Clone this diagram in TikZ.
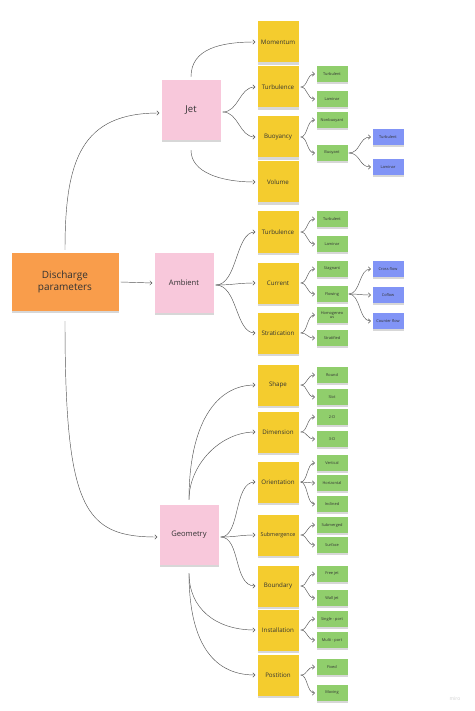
\documentclass[tikz,border=0pt]{standalone}
\usepackage{fontspec}
\setmainfont{Open Sans}
\usetikzlibrary{arrows.meta,shadows}
\definecolor{orangec}{HTML}{F99D4B}
\definecolor{pinkc}{HTML}{F8C8DB}
\definecolor{yellowc}{HTML}{F4CC2E}
\definecolor{greenc}{HTML}{90CE6C}
\definecolor{bluec}{HTML}{8194F6}
\definecolor{linec}{HTML}{555555}
\definecolor{txtc}{HTML}{333333}
\tikzset{
  note/.style={inner sep=1pt, align=center, text=txtc,
    drop shadow={shadow xshift=0pt, shadow yshift=-2.2pt, opacity=0.22, fill=black!70}},
  org/.style={note, fill=orangec, minimum width=107pt, minimum height=58pt, font=\fontsize{10}{12.5}\selectfont},
  pnk/.style={note, fill=pinkc, minimum width=59pt, minimum height=60pt, font=\fontsize{7.6}{9}\selectfont},
  yel/.style={note, fill=yellowc, minimum width=41pt, minimum height=41pt, font=\fontsize{6.2}{7}\selectfont},
  grn/.style={note, fill=greenc, minimum width=31pt, minimum height=16pt, font=\fontsize{3.9}{4.5}\selectfont},
  blu/.style={note, fill=bluec, minimum width=31pt, minimum height=16pt, font=\fontsize{3.9}{4.5}\selectfont},
  arr/.style={draw=linec, line width=0.45pt, -{Straight Barb[length=2.2pt,width=4.4pt]}},
}
\begin{document}
\begin{tikzpicture}[x=1pt,y=-1pt]
\useasboundingbox (0,0) rectangle (474,711);
\fill[white] (0,0) rectangle (474,711);

% main nodes
\node[org] (disc) at (65,282) {Discharge\\parameters};
\node[pnk,font=\fontsize{9.5}{11}\selectfont] (jet) at (191,110) {Jet};
\node[pnk] (amb) at (184,283) {Ambient};
\node[pnk] (geo) at (189,535) {Geometry};

% yellow
\node[yel] (mom) at (278,42) {Momentum};
\node[yel] (jturb) at (278,87) {Turbulence};
\node[yel] (buoy) at (278,137) {Buoyancy};
\node[yel] (vol) at (278,182) {Volume};
\node[yel] (aturb) at (278,232) {Turbulence};
\node[yel] (cur) at (278,283) {Current};
\node[yel] (strat) at (278,333) {Stratication};
\node[yel] (shape) at (278,385) {Shape};
\node[yel] (dim) at (278,432) {Dimension};
\node[yel] (ori) at (278,482) {Orientation};
\node[yel,font=\fontsize{5.4}{6}\selectfont] (sub) at (278,535) {Submergence};
\node[yel] (bound) at (278,586) {Boundary};
\node[yel] (inst) at (278,630) {Installation};
\node[yel] (pos) at (278,675) {Postition};

% green
\node[grn] (jturbT) at (332,74) {Turbulent};
\node[grn] (jturbL) at (332,99) {Laminar};
\node[grn] (nonb) at (332,120) {Nonbuoyant};
\node[grn] (buoyt) at (332,153) {Buoyant};
\node[grn] (aturbT) at (332,219) {Turbulent};
\node[grn] (aturbL) at (332,244) {Laminar};
\node[grn] (stag) at (332,269) {Stagnant};
\node[grn] (flow) at (332,294) {Flowing};
\node[grn] (homo) at (332,315) {Homogeneo\\us};
\node[grn] (stratd) at (332,338) {Stratified};
\node[grn] (round) at (332,375) {Round};
\node[grn] (slot) at (332,397) {Slot};
\node[grn] (d2) at (332,417) {2-D};
\node[grn] (d3) at (332,439) {3-D};
\node[grn] (vert) at (332,463) {Vertical};
\node[grn] (horiz) at (332,483) {Horizontal};
\node[grn] (incl) at (332,504) {Inclined};
\node[grn] (subm) at (332,525) {Submerged};
\node[grn] (surf) at (332,545) {Surface};
\node[grn] (freej) at (332,574) {Free jet};
\node[grn] (wallj) at (332,598) {Wall jet};
\node[grn] (single) at (332,619) {Single - port};
\node[grn] (multi) at (332,640) {Multi - port};
\node[grn] (fixed) at (332,667) {Fixed};
\node[grn] (moving) at (332,693) {Moving};

% blue
\node[blu] (bT) at (388,137) {Turbulent};
\node[blu] (bL) at (388,167) {Laminar};
\node[blu] (cross) at (388,269) {Cross flow};
\node[blu] (coflow) at (388,295) {Coflow};
\node[blu] (counter) at (388,321) {Counter flow};

\node[text=black!18, font=\fontsize{5}{6}\selectfont] (wm) at (455,699) {miro};

% discharge connectors
\draw[arr] ([yshift=3pt]disc.north) .. controls +(0,-90) and +(-78,0) .. ([xshift=-2pt,yshift=-3pt]jet.west);
\draw[arr] ([xshift=2pt]disc.east) -- ([xshift=-2pt]amb.west);
\draw[arr] ([yshift=-10pt]disc.south) .. controls +(0,188) and +(-73,0) .. ([xshift=-2pt,yshift=-2pt]geo.west);

% jet connectors
\draw[arr] ([yshift=3pt]jet.north) .. controls +(0,-28) and +(-35,0) .. ([xshift=-2pt]mom.west);
\draw[arr] ([xshift=2pt,yshift=-2pt]jet.east) .. controls +(16,0) and +(-16,0) .. ([xshift=-2pt]jturb.west);
\draw[arr] ([xshift=2pt,yshift=-2pt]jet.east) .. controls +(16,0) and +(-16,0) .. ([xshift=-2pt]buoy.west);
\draw[arr] ([yshift=-10pt]jet.south) .. controls +(0,22) and +(-35,0) .. ([xshift=-2pt]vol.west);

% ambient connectors
\draw[arr] ([xshift=2pt,yshift=-2pt]amb.east) .. controls +(22,0) and +(-20,0) .. ([xshift=-2pt]aturb.west);
\draw[arr] ([xshift=2pt,yshift=-2pt]amb.east) .. controls +(18,0) and +(-18,0) .. ([xshift=-2pt]cur.west);
\draw[arr] ([xshift=2pt,yshift=-2pt]amb.east) .. controls +(22,0) and +(-20,0) .. ([xshift=-2pt]strat.west);

% geometry connectors
\draw[arr] ([yshift=5pt]geo.north) .. controls +(0,-75) and +(-40,0) .. ([xshift=-2pt]shape.west);
\draw[arr] ([yshift=5pt]geo.north) .. controls +(0,-35) and +(-35,0) .. ([xshift=-2pt]dim.west);
\draw[arr] ([xshift=2pt,yshift=-2pt]geo.east) .. controls +(20,0) and +(-22,0) .. ([xshift=-2pt]ori.west);
\draw[arr] ([xshift=2pt,yshift=-2pt]geo.east) .. controls +(16,0) and +(-16,0) .. ([xshift=-2pt]sub.west);
\draw[arr] ([xshift=2pt,yshift=-2pt]geo.east) .. controls +(20,0) and +(-22,0) .. ([xshift=-2pt]bound.west);
\draw[arr] ([yshift=-8pt]geo.south) .. controls +(0,35) and +(-40,0) .. ([xshift=-2pt]inst.west);
\draw[arr] ([yshift=-8pt]geo.south) .. controls +(0,65) and +(-45,0) .. ([xshift=-2pt]pos.west);

% yellow -> green
\foreach \s/\t in {jturb/jturbT, jturb/jturbL, buoy/nonb, buoy/buoyt,
  aturb/aturbT, aturb/aturbL, cur/stag, cur/flow, strat/homo, strat/stratd,
  shape/round, shape/slot, dim/d2, dim/d3, ori/vert, ori/horiz, ori/incl,
  sub/subm, sub/surf, bound/freej, bound/wallj, inst/single, inst/multi,
  pos/fixed, pos/moving}
  \draw[arr] ([xshift=2pt]\s.east) .. controls +(7,0) and +(-8,0) .. ([xshift=-1.5pt]\t.west);

% green -> blue
\foreach \s/\t in {buoyt/bT, buoyt/bL, flow/cross, flow/coflow, flow/counter}
  \draw[arr] ([xshift=1pt]\s.east) .. controls +(12,0) and +(-12,0) .. ([xshift=-1.5pt]\t.west);
\end{tikzpicture}
\end{document}
